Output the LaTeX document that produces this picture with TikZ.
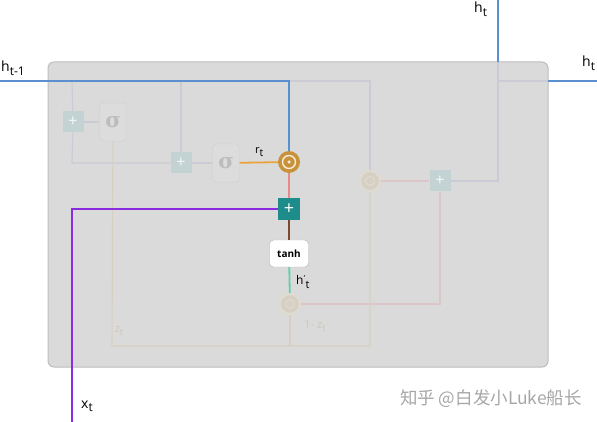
\documentclass[tikz,border=0pt]{standalone}
\usepackage{fontspec}
\setmainfont{Open Sans}
\newfontfamily\cjk{Noto Sans CJK SC}
\newfontfamily\sigfont{DejaVu Serif}
\begin{document}
\begin{tikzpicture}[x=1pt,y=-1pt,
  faint/.style={draw=fline,line width=1.1pt},
  fainted/.style={draw=fred,line width=1.1pt},
  fainty/.style={draw=fbeige,line width=1.1pt},
  fplus/.style={fill=fteal,minimum size=21pt,inner sep=0pt,text=white!85!fteal,font=\fontsize{16}{16}\selectfont},
  fsig/.style={fill=fsigfill,draw=fsigdraw,rounded corners=4pt,minimum width=27pt,minimum height=38pt,inner sep=0pt,text=fsigtext,font=\sigfont\fontsize{21}{21}\bfseries\selectfont},
  fcirc/.style={circle,fill=fcircfill,draw=fcircdraw,line width=2pt,minimum size=20pt,inner sep=0pt},
  lbl/.style={font=\fontsize{14}{15}\selectfont,inner sep=0pt},
  main/.style={line width=1.8pt}
]
\definecolor{bgbox}{HTML}{DADADA}
\definecolor{bgdraw}{HTML}{BDBDBD}
\definecolor{fline}{HTML}{CACBD4}
\definecolor{fred}{HTML}{DCC6C7}
\definecolor{fbeige}{HTML}{D6D0C0}
\definecolor{fteal}{HTML}{C3D3D3}
\definecolor{fsigfill}{HTML}{DCDCDC}
\definecolor{fsigdraw}{HTML}{D2D2D2}
\definecolor{fsigtext}{HTML}{BCBCBC}
\definecolor{fcircfill}{HTML}{D6D0C4}
\definecolor{fcircdraw}{HTML}{E0DBD0}
\definecolor{hblue}{HTML}{5A8FD0}
\definecolor{rorange}{HTML}{E8A33C}
\definecolor{cgold}{HTML}{C8923A}
\definecolor{pinkl}{HTML}{E88A8A}
\definecolor{tealbox}{HTML}{1F8C8C}
\definecolor{purp}{HTML}{8A2BE2}
\definecolor{brownl}{HTML}{7A4A2A}
\definecolor{greenl}{HTML}{5DD1A8}
\useasboundingbox (0,0) rectangle (597,422);
% box
\draw[fill=bgbox,draw=bgdraw,line width=1pt,rounded corners=6pt] (48,62) rectangle (548,367);
% faint coordinates
\coordinate (a1) at (72,81);
\coordinate (a2) at (72,163);
\coordinate (b1) at (181,81);
\coordinate (c1) at (370,81);
\coordinate (d1) at (498,62);
\coordinate (d2) at (498,181);
\coordinate (d3) at (548,81);
\coordinate (e1) at (440,304);
\coordinate (f1) at (112,346);
\coordinate (f2) at (370,346);
\coordinate (f3) at (290,346);
\coordinate (hc2) at (289,81);
\coordinate (d4) at (498,81);
% faint nodes (as path anchors)
\node[fplus] (p1) at (73,122) {+};
\node[fsig] (s1) at (113,122) {σ};
\node[fplus] (p2) at (181,163) {+};
\node[fsig] (s2) at (226,163) {σ};
\node[fcirc] (c2) at (370,181) {};
\node[fplus] (p3) at (440,181) {+};
\node[fcirc] (c3) at (290,304) {};
% faint lines
\draw[faint] (a1) -- (p1);
\draw[faint] (p1) -- (s1);
\draw[faint] (p1) -- (a2) -- (p2);
\draw[faint] (b1) -- (p2);
\draw[faint] (p2) -- (s2);
\draw[faint] (hc2) -- (c1) -- (c2);
\draw[faint] (d1) -- (d2) -- (p3);
\draw[faint] (d4) -- (d3);
\draw[fainted] (c2) -- (p3);
\draw[fainted] (p3) -- (e1) -- (c3);
\draw[fainty] (c2) -- (f2) -- (f1) -- (s1);
\draw[fainty] (c3) -- (f3);
% redraw faint nodes on top
\node[fplus] at (73,122) {+};
\node[fsig] at (113,122) {σ};
\node[fplus] at (181,163) {+};
\node[fsig] at (226,163) {σ};
\node[fcirc] at (370,181) {};
\node[fplus] at (440,181) {+};
\node[fcirc] at (290,304) {};
\node[circle,draw=fcircdraw,line width=1pt,minimum size=9pt,inner sep=0pt] at (370,181) {};
\node[circle,draw=fcircdraw,line width=1pt,minimum size=9pt,inner sep=0pt] at (290,304) {};
\node[font=\fontsize{11}{11}\selectfont,text=fbeige!90!gray] (zt) at (119,331) {z\raisebox{-0.6ex}{\fontsize{9}{9}\selectfont t}};
\node[font=\fontsize{11}{11}\selectfont,text=fbeige!90!gray] (omz) at (315,326) {1- z\raisebox{-0.6ex}{\fontsize{9}{9}\selectfont t}};
% main path
\coordinate (hin) at (0,81);
\coordinate (hcorner) at (289,81);
\node[circle,fill=cgold,minimum size=22pt,inner sep=0pt] (mul) at (289,162) {};
\node[circle,draw=white!80!rorange,line width=1.4pt,minimum size=13pt,inner sep=0pt] at (289,162) {};
\node[circle,fill=white!80!rorange,minimum size=3.5pt,inner sep=0pt] at (289,162) {};
\node[fill=tealbox,minimum size=22pt,inner sep=0pt,text=white,font=\fontsize{18}{18}\selectfont] (add) at (289,209) {+};
\node[draw=gray!60,fill=white,rounded corners=4pt,minimum width=39pt,minimum height=27pt,inner sep=0pt,font=\fontsize{10}{10}\selectfont\bfseries] (tanh) at (289,253.5) {tanh};
\coordinate (xin) at (72,422);
\coordinate (xcorner) at (72,209);
\draw[hblue,main] (hin) -- (hcorner) -- (mul);
\draw[rorange,main] (s2) -- (mul);
\draw[pinkl,main] (mul) -- (add);
\draw[purp,main] (xin) -- (xcorner) -- (add);
\draw[brownl,main] (add) -- (tanh);
\draw[greenl,main] (tanh) -- (c3);
% outputs
\coordinate (htop) at (498,0);
\coordinate (hout) at (597,81);
\draw[hblue,line width=1.4pt] (htop) -- (d1);
\draw[hblue,line width=1.4pt] (d3) -- (hout);
% labels
\node[lbl,anchor=base west] (lh1) at (1,72) {h\raisebox{-0.45ex}{\fontsize{12}{12}\selectfont t-1}};
\node[lbl,anchor=base west] (lh2) at (474,13) {h\raisebox{-0.45ex}{\fontsize{12}{12}\selectfont t}};
\node[lbl,anchor=base west] (lh3) at (582,67) {h\raisebox{-0.45ex}{\fontsize{12}{12}\selectfont t}};
\node[lbl,anchor=base west,font=\fontsize{11}{12}\selectfont] (lr) at (255,154) {r\raisebox{-0.45ex}{\fontsize{10.5}{10.5}\selectfont t}};
\node[lbl,anchor=base west,font=\fontsize{12}{12}\selectfont] (lhp) at (296,284) {h\raisebox{1.2ex}{\fontsize{8}{8}\selectfont ,}\raisebox{-0.7ex}{\fontsize{11}{11}\selectfont t}};
\node[lbl,anchor=base west] (lx) at (81,408) {x\raisebox{-0.45ex}{\fontsize{12}{12}\selectfont t}};
\node[anchor=base,text=gray!70,font=\cjk\fontsize{17.5}{18}\selectfont] (wm) at (491,404) {知乎 @白发小Luke船长};
\end{tikzpicture}
\end{document}
